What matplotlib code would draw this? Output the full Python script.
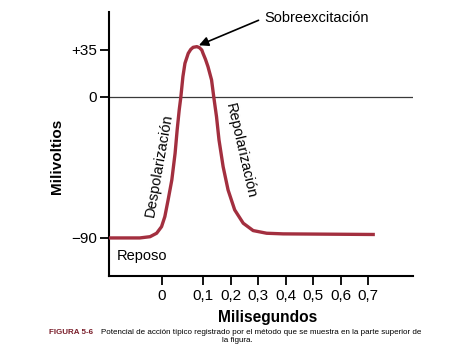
import numpy as np
import matplotlib
matplotlib.use("Agg")
import matplotlib.pyplot as plt

plt.rcParams['font.family'] = ['Liberation Sans', 'DejaVu Sans']

# data
time_ms = [-0.129, -0.054, -0.029, -0.013, -0.001, 0.007, 0.015, 0.024, 0.032, 0.037,
           0.042, 0.046, 0.051, 0.056, 0.064, 0.070, 0.076, 0.085, 0.091, 0.097,
           0.100, 0.109, 0.118, 0.131, 0.139, 0.149, 0.158, 0.173, 0.191, 0.215,
           0.246, 0.282, 0.331, 0.391, 0.724]
millivolts = [-90, -90, -89.2, -87.0, -82.8, -76.4, -65.7, -53.0, -35.9, -21.1,
              -8.3, 0, 15.1, 25.1, 32.5, 35.4, 37.0, 37.5, 36.8, 35.0,
              32.5, 28.0, 22.6, 12.7, 0, -12.6, -27.4, -44.5, -59.4, -72.1,
              -80.6, -85.3, -87.0, -87.4, -87.8]
x_ticks = [0, 0.1, 0.2, 0.3, 0.4, 0.5, 0.6, 0.7]
x_tick_labels = ['0', '0,1', '0,2', '0,3', '0,4', '0,5', '0,6', '0,7']
y_ticks = [-90, 0, 35]
y_tick_labels = ['\u221290', '0', '+35']


# piecewise-linear axis scales (the original figure is not to scale)
def xf(t):
    t = np.asarray(t, dtype=float)
    return np.where(t < 0.1, t * 410.0, 41.0 + (t - 0.1) * 275.0)


def xi(p):
    p = np.asarray(p, dtype=float)
    return np.where(p < 41.0, p / 410.0, 0.1 + (p - 41.0) / 275.0)


def yf(v):
    v = np.asarray(v, dtype=float)
    return np.where(v >= 0, v * 47.0 / 35.0, v * 141.0 / 90.0)


def yi(p):
    p = np.asarray(p, dtype=float)
    return np.where(p >= 0, p * 35.0 / 47.0, p * 90.0 / 141.0)


fig = plt.figure(figsize=(4.74, 3.45), dpi=100)
ax = fig.add_axes([109 / 474, 1 - 276 / 345, (413 - 109) / 474, (276 - 12) / 345])
ax.set_xscale('function', functions=(xf, xi))
ax.set_yscale('function', functions=(yf, yi))
ax.set_xlim(-0.129, 0.8625)
ax.set_ylim(-114.3, 63.3)

ax.axhline(0, color='#3a3a3a', lw=0.9, zorder=1)
ax.plot(time_ms, millivolts, color='#a32f3f', lw=2.4, solid_capstyle='butt',
        solid_joinstyle='round', zorder=3)

for s in ['top', 'right']:
    ax.spines[s].set_visible(False)
for s in ['left', 'bottom']:
    ax.spines[s].set_linewidth(1.5)
    ax.spines[s].set_color('black')

ax.set_xticks(x_ticks)
ax.set_xticklabels(x_tick_labels)
ax.set_yticks(y_ticks)
ax.set_yticklabels(y_tick_labels)
ax.xaxis.set_minor_locator(matplotlib.ticker.NullLocator())
ax.yaxis.set_minor_locator(matplotlib.ticker.NullLocator())
ax.tick_params(axis='both', direction='out', length=6.5, width=1.3, labelsize=11, pad=2)
ax.tick_params(axis='x', pad=3)

ax.set_ylabel('Milivoltios', fontsize=11, fontweight='bold')
ax.yaxis.label.set_va('center')
ax.yaxis.set_label_coords(-0.171, 0.4545)
ax.set_xlabel('Milisegundos', fontsize=11.2, fontweight='bold')
ax.xaxis.label.set_va('center')
ax.xaxis.set_label_coords(0.523, -0.159)

ax.annotate('Sobreexcitación', xy=(0.090, 38.5), xytext=(0.321, 58.8),
            textcoords='data', ha='left', va='center', fontsize=10.5,
            arrowprops=dict(arrowstyle='-|>', color='black', lw=1.2,
                            mutation_scale=14, relpos=(0, 0.5), shrinkA=2, shrinkB=0))
ax.text(-0.0073, -43.4, 'Despolarización', rotation=80, rotation_mode='anchor',
        ha='center', va='center', fontsize=10.5)
ax.text(0.237, -34.5, 'Repolarización', rotation=-77, rotation_mode='anchor',
        ha='center', va='center', fontsize=10.5)
ax.text(-0.110, -101.5, 'Reposo', ha='left', va='center', fontsize=10.5)

fig.text(49 / 474, 1 - 332 / 345, 'FIGURA 5-6', color='#7a1f2b', fontsize=5.8,
         fontweight='bold', ha='left', va='center')
fig.text(101 / 474, 1 - 332 / 345,
         'Potencial de acción típico registrado por el método que se muestra en la parte superior de',
         fontsize=5.8, ha='left', va='center')
fig.text(237 / 474, 1 - 341 / 345, 'la figura.', fontsize=5.8, ha='center', va='center')

fig.savefig('out.png', dpi=100)
